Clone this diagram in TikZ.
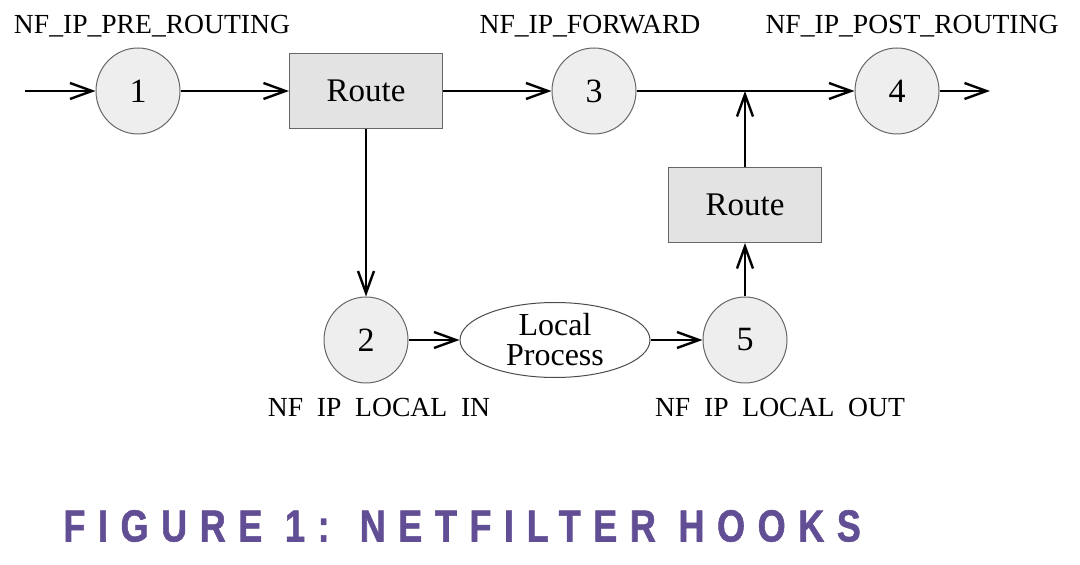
\documentclass[tikz,border=0pt]{standalone}
\usepackage{fontspec}
\setmainfont{Liberation Serif}
\newfontfamily\capfont[LetterSpace=28,FakeStretch=0.8,FakeBold=1.2]{Liberation Sans}
\usetikzlibrary{arrows.meta,shapes.geometric,positioning}
\definecolor{hookgray}{HTML}{EEEEEE}
\definecolor{routegray}{HTML}{E3E3E3}
\definecolor{capviolet}{HTML}{624E94}
\tikzset{
	hook/.style={ellipse, draw=black!60, line width=0.5pt, fill=hookgray, minimum width=42pt, minimum height=43pt, inner sep=0pt, font=\fontsize{17}{17}\selectfont},
	routebox/.style={rectangle, draw=black!60, line width=0.5pt, fill=routegray, minimum width=76.5pt, minimum height=37.5pt, font=\fontsize{16.5}{16.5}\selectfont},
	proc/.style={ellipse, draw=black!70, line width=0.5pt, fill=white, minimum width=95pt, minimum height=37.5pt, inner sep=0pt, align=center, font=\fontsize{16}{15}\selectfont},
	flow/.style={-{Straight Barb[length=11pt,width=8pt]}, line width=1.2pt},
	hookname/.style={font=\fontsize{13.8}{13.8}\selectfont, inner sep=0pt}
}
\newcommand{\gap}{\hspace{0.5em}}
\begin{document}
\begin{tikzpicture}[x=0.5pt, y=-0.5pt]
		\useasboundingbox (0,0) rectangle (1080,565);
		% hooks
		\node[hook] (n1) at (138,91) {1};
		\node[hook] (n3) at (594,91) {3};
		\node[hook] (n4) at (897,91) {4};
		\node[hook] (n2) at (366,340) {2};
		\node[hook] (n5) at (745,340) {5};
		% routing decisions
		\node[routebox] (route1) at (366,91) {Route};
		\node[routebox] (route2) at (745,205) {Route};
		\node[proc] (local) at (555,340) {Local\\Process};
		% hook names
		\node[hookname] at (152,26) {NF\_IP\_PRE\_ROUTING};
		\node[hookname] at (590,26) {NF\_IP\_FORWARD};
		\node[hookname] at (912,26) {NF\_IP\_POST\_ROUTING};
		\node[hookname] at (379,407) {NF\gap IP\gap LOCAL\gap IN};
		\node[hookname] at (780,407) {NF\gap IP\gap LOCAL\gap OUT};
		% packet flow
		\coordinate (in) at (25,91);
		\coordinate (out) at (990,91);
		\coordinate (join) at (745,91);
		\draw[flow] (in) -- (n1);
		\draw[flow] (n1) -- (route1);
		\draw[flow] (route1) -- (n3);
		\draw[flow] (n3) -- (n4);
		\draw[flow] (n4) -- (out);
		\draw[flow] (route1) -- (n2);
		\draw[flow] (n2) -- (local);
		\draw[flow] (local) -- (n5);
		\draw[flow] (n5) -- (route2);
		\draw[flow] (route2) -- (join);
		% caption
		\node[anchor=west, inner sep=0pt, text=capviolet, font=\capfont\bfseries\fontsize{22.5}{22.5}\selectfont] (cap) at (63,526) {FIGURE 1: NETFILTER HOOKS};
	\end{tikzpicture}
\end{document}
